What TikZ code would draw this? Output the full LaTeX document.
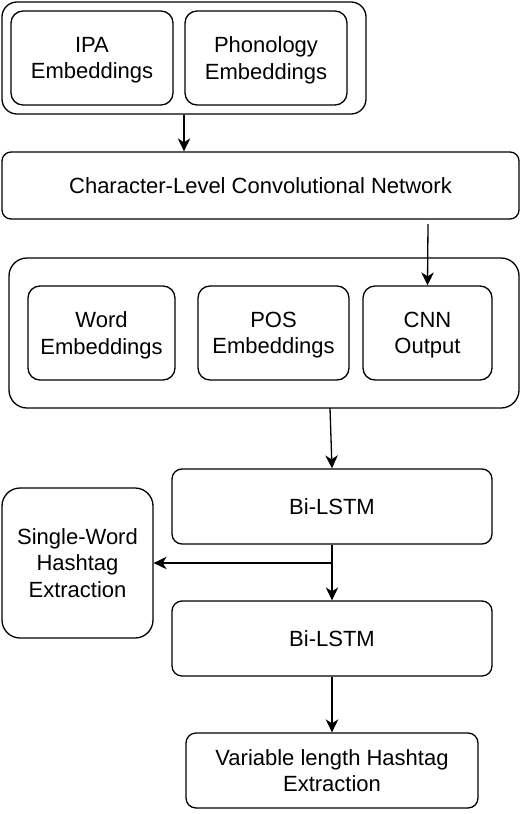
\documentclass[tikz,border=0pt]{standalone}
\usepackage{fontspec}
\setmainfont{Liberation Sans}
\usetikzlibrary{calc,arrows.meta}

\begin{document}
\begin{tikzpicture}[x=1pt,y=-1pt,
    box/.style={draw,line width=1.3pt,rounded corners=12pt,align=center,font=\fontsize{22}{26.5}\selectfont,inner sep=0pt,text depth=0pt},
    group/.style={draw,line width=1.3pt,rounded corners=15pt,inner sep=0pt},
    flow/.style={-{Stealth[length=13pt,width=12.5pt,inset=4pt]},line width=1.3pt}]
    \useasboundingbox (0,0) rectangle (523,814);
    % first stage
    \node[group,minimum width=364pt,minimum height=112pt] (top) at (184,58) {};
    \node[box,minimum width=162pt,minimum height=94pt] (ipa) at (92,58) {IPA\\Embeddings};
    \node[box,minimum width=162pt,minimum height=94pt] (phon) at (266,58) {Phonology\\Embeddings};
    \node[box,rounded corners=9pt,minimum width=517pt,minimum height=67pt] (charcnn) at (260.5,185.5) {Character-Level Convolutional Network};
    % second stage
    \node[group,rounded corners=18pt,minimum width=510pt,minimum height=150pt] (mid) at (264,333) {};
    \node[box,minimum width=147pt,minimum height=94pt] (word) at (101.5,333) {Word\\Embeddings};
    \node[box,minimum width=151pt,minimum height=94pt] (pos) at (273.5,333) {POS\\Embeddings};
    \node[box,minimum width=129pt,minimum height=94pt] (cnnout) at (427.5,333) {CNN\\Output};
    % recurrent layers
    \node[box,rounded corners=10pt,minimum width=320pt,minimum height=75pt] (lstma) at (332,506.5) {Bi-LSTM};
    \node[box,rounded corners=18pt,minimum width=151pt,minimum height=150pt] (single) at (77.5,563) {Single-Word\\Hashtag\\Extraction};
    \node[box,rounded corners=10pt,minimum width=320pt,minimum height=75pt] (lstmb) at (332,638.5) {Bi-LSTM};
    \node[box,rounded corners=10pt,minimum width=292pt,minimum height=75pt] (varlen) at (332,770.5) {Variable length Hashtag\\Extraction};
    % connectors
    \coordinate (cnntap) at (428,224);
    \coordinate (midtap) at (330,408);
    \draw[flow] (top.south) -- (top.south |- charcnn.north);
    \draw[flow] (cnntap) -- (cnnout.north);
    \draw[flow] (midtap) -- (lstma.north);
    \draw[flow] (lstma.south) -- (lstmb.north);
    \draw[flow] (lstma.south |- single.east) -- (single.east);
    \draw[flow] (lstmb.south) -- (varlen.north);
\end{tikzpicture}
\end{document}
